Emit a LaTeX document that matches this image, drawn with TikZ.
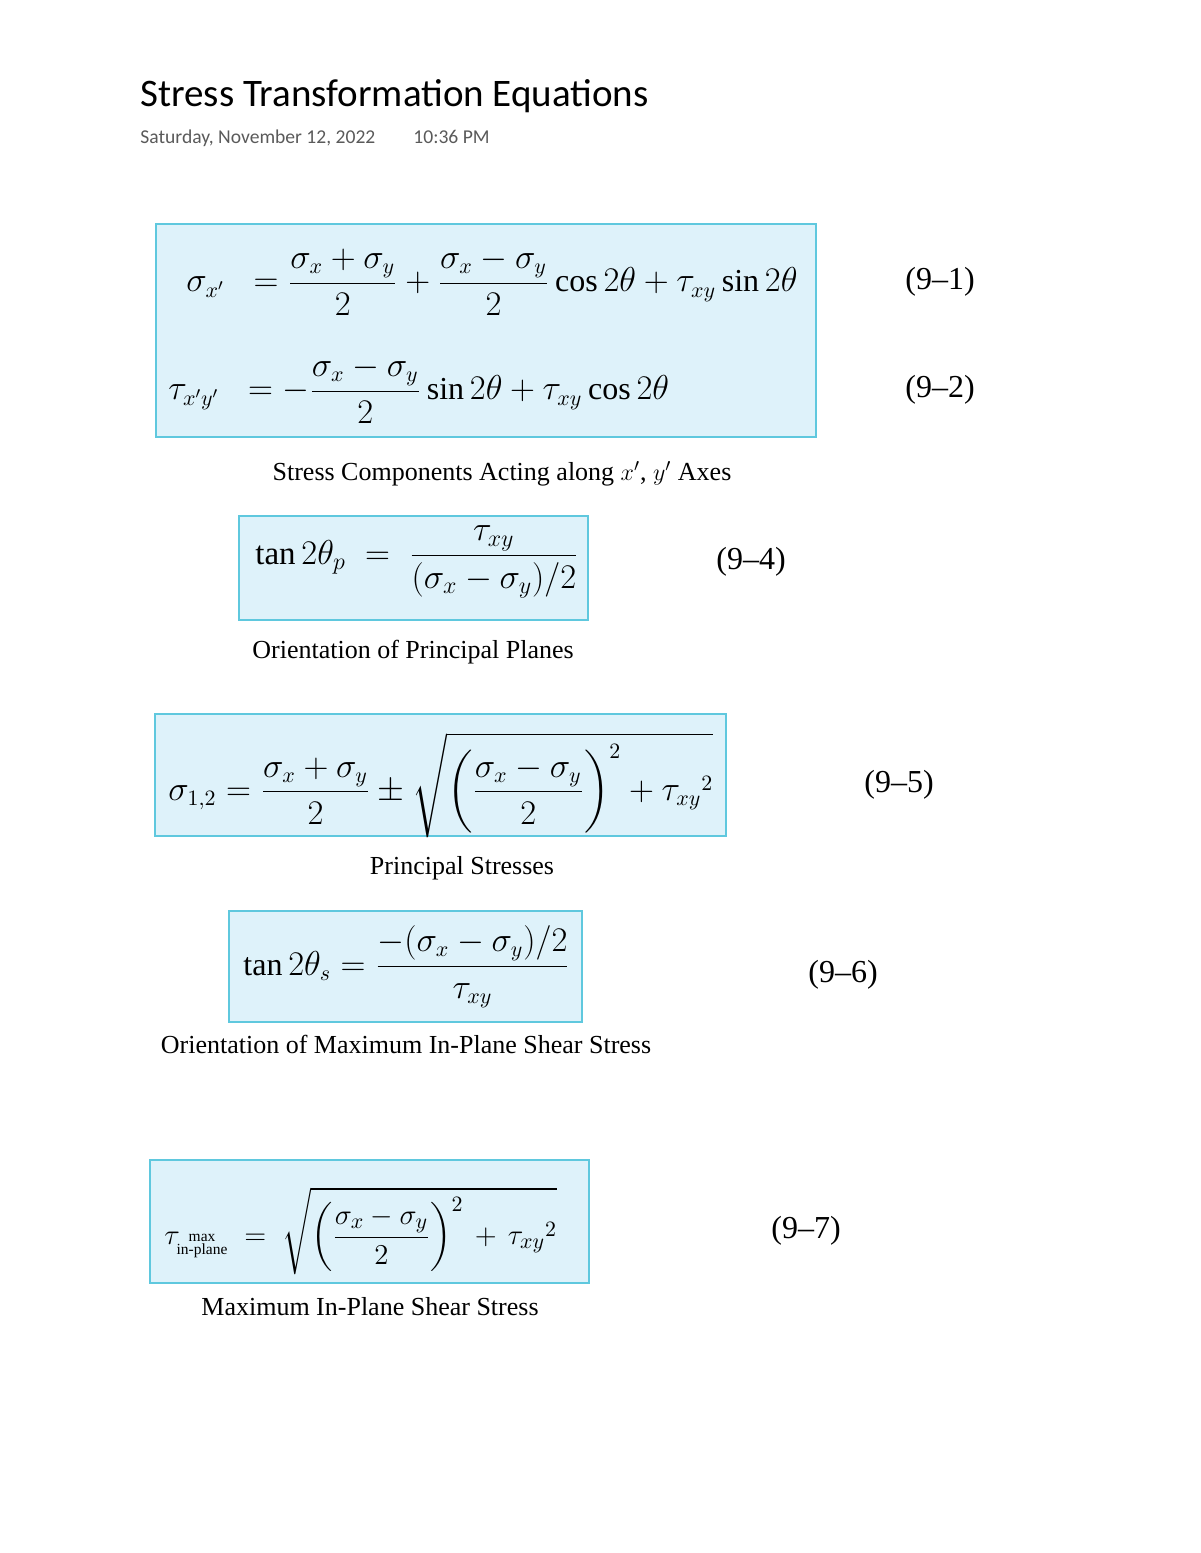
\documentclass[tikz,border=0pt]{standalone}
\usepackage{amsmath}
\usepackage{fontspec}
\setmainfont{Liberation Serif}
\newfontfamily\calib{Carlito}
\definecolor{boxfill}{RGB}{222,242,250}
\definecolor{boxline}{RGB}{95,200,222}
\definecolor{dategray}{RGB}{90,90,90}
\newcommand{\pl}{\,+\,}
\begin{document}
\begin{tikzpicture}[x=0.5pt,y=-0.5pt,
  eqbox/.style={draw=boxline,line width=1.2pt,fill=boxfill},
  eq/.style={anchor=west,inner sep=0pt,font=\fontsize{16}{20}\selectfont},
  num/.style={font=\fontsize{16}{19}\selectfont},
  captxt/.style={font=\fontsize{13}{15}\selectfont}]
\useasboundingbox (0,0) rectangle (1200,1553);
\node[anchor=west,inner sep=0pt,font=\calib\fontsize{19.5}{23}\selectfont] (title) at (140,96) {Stress Transformation Equations};
\node[anchor=west,inner sep=0pt,font=\calib\fontsize{9.8}{12}\selectfont,text=dategray] (date) at (140,138) {Saturday, November 12, 2022\hspace{19pt}10:36 PM};
% box 1
\draw[eqbox] (156,224) rectangle (816,437);
\node[eq] (e1) at (186,282) {$\displaystyle \sigma_{x'}\;\;=\frac{\sigma_x+\sigma_y}{2}+\frac{\sigma_x-\sigma_y}{2}\cos 2\theta+\tau_{xy}\sin 2\theta$};
\node[eq] (e2) at (168,390) {$\displaystyle \tau_{x'y'}\;\;=-\frac{\sigma_x-\sigma_y}{2}\sin 2\theta+\tau_{xy}\cos 2\theta$};
\node[num] (n1) at (940,282) {(9--1)};
\node[num] (n2) at (940,390) {(9--2)};
\node[captxt] (c1) at (502,474) {Stress Components Acting along $x'$, $y'$ Axes};
% box 2
\draw[eqbox] (239,516) rectangle (588,620);
\node[eq,font=\fontsize{16.5}{20}\selectfont] (e4) at (255,562) {$\displaystyle \tan 2\theta_p\;=\;\frac{\tau_{xy}}{(\sigma_x-\sigma_y)/2}$};
\node[num] (n4) at (751,562) {(9--4)};
\node[captxt] (c2) at (413,652) {Orientation of Principal Planes};
% box 3
\draw[eqbox] (155,714) rectangle (726,836);
\node[eq] (e5) at (168,785) {$\displaystyle \sigma_{1,2}=\frac{\sigma_x+\sigma_y}{2}\pm\sqrt{\left(\frac{\sigma_x-\sigma_y}{2}\right)^{2}+{\tau_{xy}}^{2}}$};
\node[num] (n5) at (899,785) {(9--5)};
\node[captxt] (c3) at (462,868) {Principal Stresses};
% box 4
\draw[eqbox] (229,911) rectangle (582,1022);
\node[eq] (e6) at (243,967) {$\displaystyle \tan 2\theta_s=\frac{-(\sigma_x-\sigma_y)/2}{\tau_{xy}}$};
\node[num] (n6) at (843,975) {(9--6)};
\node[captxt] (c4) at (406,1044) {Orientation of Maximum In-Plane Shear Stress};
% box 5
\draw[eqbox] (150,1160) rectangle (589,1283);
\node[eq,font=\fontsize{15.5}{19}\selectfont] (e7) at (164,1231) {$\displaystyle \tau_{\substack{\scriptscriptstyle\text{max}\\[-2pt]\scriptscriptstyle\text{in-plane}}}\;=\;\sqrt{\left(\frac{\sigma_x-\sigma_y}{2}\right)^{2}\pl{\tau_{xy}}^{2}}$};
\node[num] (n7) at (806,1231) {(9--7)};
\node[captxt] (c5) at (370,1307) {Maximum In-Plane Shear Stress};
\end{tikzpicture}
\end{document}
